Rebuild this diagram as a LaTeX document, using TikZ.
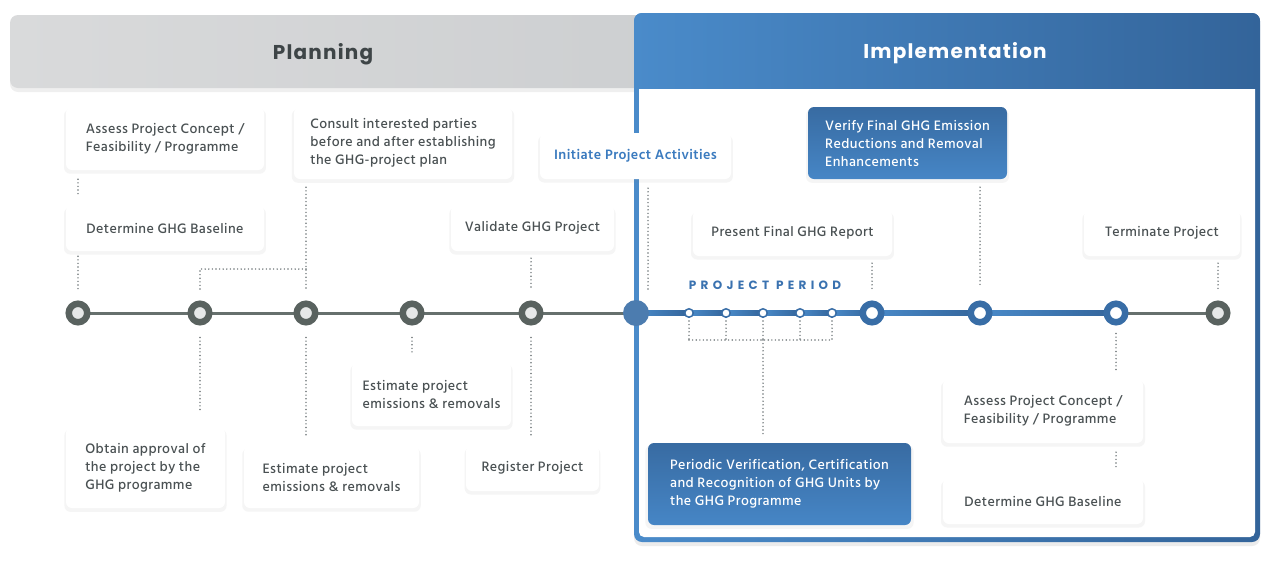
\documentclass[tikz,border=0pt]{standalone}
\usepackage{fontspec}
\setmainfont{Hind Siliguri}[UprightFont={* Medium}, BoldFont={* SemiBold}, LetterSpace=3]
\newfontfamily\headfont[LetterSpace=6]{Poppins}
\newfontfamily\ppfont[LetterSpace=36]{Poppins}
\usetikzlibrary{shadows,calc}
\pgfdeclarelayer{back}
\pgfdeclarelayer{lines}
\pgfsetlayers{back,lines,main}
\definecolor{bodytxt}{HTML}{4A5153}
\definecolor{headtxt}{HTML}{3E4547}
\definecolor{plL}{HTML}{D9DADB}
\definecolor{plR}{HTML}{CDCFD1}
\definecolor{imL}{HTML}{4A8BCA}
\definecolor{imR}{HTML}{33649A}
\definecolor{bbTop}{HTML}{386BA2}
\definecolor{bbBot}{HTML}{4686C6}
\definecolor{ringg}{HTML}{59625F}
\definecolor{ringin}{HTML}{E6E8E8}
\definecolor{lineg}{HTML}{66706D}
\definecolor{ringb}{HTML}{386DA6}
\definecolor{blL}{HTML}{4A8BCA}
\definecolor{blD}{HTML}{33649A}
\definecolor{dotc}{HTML}{6E7678}
\definecolor{bluetxt}{HTML}{3B7BBF}
\definecolor{pptxt}{HTML}{3A72B0}
\newcommand\bodyfnt{\fontsize{14}{18}\selectfont}
\tikzset{
  wbox/.style={fill=white, rounded corners=6pt, align=left, text=bodytxt, font=\bodyfnt,
    inner xsep=0pt, inner ysep=0pt,
    drop shadow={shadow xshift=0pt, shadow yshift=-3pt, opacity=0.08, shadow scale=1.02}},
  bbox/.style={wbox, top color=bbTop, bottom color=bbBot, text=white},
  gring/.style={circle, draw=ringg, line width=6.5pt, fill=ringin, minimum size=18.5pt, inner sep=0pt,
    drop shadow={shadow xshift=0pt, shadow yshift=-2pt, opacity=0.12}},
  bring/.style={gring, draw=ringb, fill=white},
  sdot/.style={circle, draw=ringb, line width=1.5pt, fill=white, minimum size=8.5pt, inner sep=0pt},
  bdot/.style={circle, fill=ringb!90!white, minimum size=26pt, inner sep=0pt},
  grayline/.style={draw=lineg, line width=3pt},
  dots/.style={draw=dotc, line width=1.6pt, line cap=round, dash pattern=on 0pt off 3.6pt},
  headlbl/.style={font=\headfont\bfseries\fontsize{20}{24}\selectfont},
}
\begin{document}
\begin{tikzpicture}[x=1pt,y=-1pt]
\useasboundingbox (0,0) rectangle (1280,563);
\begin{pgfonlayer}{back}
\fill[white] (0,0) rectangle (1280,563);
\path[rounded corners=8pt, left color=plL, right color=plR,
  drop shadow={shadow xshift=0pt, shadow yshift=-4pt, opacity=0.12}] (10,15) rectangle (660,88);
\path[rounded corners=8pt, left color=imL, right color=imR,
  drop shadow={shadow xshift=0pt, shadow yshift=-4pt, opacity=0.15}] (634,13) rectangle (1260,542);
\fill[white, rounded corners=5pt] (639,70) rectangle (1255,537);
\begin{scope}
\clip[rounded corners=8pt] (634,13) rectangle (1260,542);
\shade[left color=imL, right color=imR] (634,13) rectangle (1260,88);
\end{scope}
\end{pgfonlayer}

% headers
\node[headlbl, text=headtxt] (plan) at (323,54) {Planning};
\node[headlbl, text=white] (impl) at (955,53) {Implementation};

% boxes above
\node[wbox, minimum width=198pt, minimum height=63pt] (b1) at (165,138.5) {Assess Project Concept /\\Feasibility / Programme};
\node[wbox, minimum width=198pt, minimum height=46pt] (b2) at (165,228) {Determine GHG Baseline};
\node[wbox, minimum width=218pt, minimum height=72pt] (b3) at (403,143) {Consult interested parties\\before and after establishing\\the GHG-project plan};
\node[wbox, minimum width=191pt, minimum height=46pt, text=bluetxt, font=\bodyfnt\bfseries] (b4) at (635.5,156) {Initiate Project Activities};
\node[wbox, minimum width=163pt, minimum height=46pt] (b5) at (532.5,228) {Validate GHG Project};
\node[bbox, minimum width=199pt, minimum height=72pt] (b6) at (907.5,143) {Verify Final GHG Emission\\Reductions and Removal\\Enhancements};
\node[wbox, minimum width=199pt, minimum height=46pt] (b7) at (792.5,233) {Present Final GHG Report};
\node[wbox, minimum width=156pt, minimum height=46pt] (b8) at (1162,233) {Terminate Project};
% boxes below
\node[wbox, minimum width=159pt, minimum height=64pt] (b9) at (431.5,394) {Estimate project\\emissions \& removals};
\node[wbox, minimum width=159pt, minimum height=81pt] (b10) at (145.5,467.5) {Obtain approval of\\the project by the\\GHG programme};
\node[wbox, minimum width=175pt, minimum height=62pt] (b11) at (331.5,477) {Estimate project\\emissions \& removals};
\node[wbox, minimum width=133pt, minimum height=46pt] (b12) at (532.5,468) {Register Project};
\node[bbox, minimum width=263pt, minimum height=82pt] (b13) at (779.5,484) {Periodic Verification, Certification\\and Recognition of GHG Units by\\the GHG Programme};
\node[wbox, minimum width=200pt, minimum height=64pt] (b14) at (1043,411) {Assess Project Concept /\\Feasibility / Programme};
\node[wbox, minimum width=200pt, minimum height=46pt] (b15) at (1043,501) {Determine GHG Baseline};

% timeline markers
\node[gring] (c1) at (78,313) {};
\node[gring] (c2) at (200,313) {};
\node[gring] (c3) at (306,313) {};
\node[gring] (c4) at (412,313) {};
\node[gring] (c5) at (531,313) {};
\node[bdot] (bc) at (636,313) {};
\node[sdot] (s1) at (689,313) {};
\node[sdot] (s2) at (726,313) {};
\node[sdot] (s3) at (763,313) {};
\node[sdot] (s4) at (800,313) {};
\node[sdot] (s5) at (832,313) {};
\node[bring] (r1) at (872,313) {};
\node[bring] (r2) at (980,313) {};
\node[bring] (r3) at (1116,313) {};
\node[gring] (g6) at (1218,313) {};

\node[font=\ppfont\bfseries\fontsize{12}{14}\selectfont, text=pptxt] (pp) at (765,285) {PROJECT PERIOD};

\begin{pgfonlayer}{lines}
\draw[grayline] (c1.center) -- (bc.center);
\foreach \a/\b in {bc/s1,s1/s2,s2/s3,s3/s4,s4/s5,s5/r1,r1/r2,r2/r3}
  \shade[left color=blL, right color=blD] ($(\a.center)+(0,-2.3)$) rectangle ($(\b.center)+(0,2.3)$);
\draw[grayline] (r3.center) -- (g6.center);
\end{pgfonlayer}

% dotted connectors
\draw[dots, shorten <=9pt, shorten >=8pt] (b1.south -| c1) -- (b2.north -| c1);
\draw[dots, shorten <=5pt, shorten >=11pt] (b2.south -| c1) -- (c1);
\draw[dots, shorten <=8pt, shorten >=11pt] (b3.south -| c3) -- (c3);
\coordinate (j1) at (306,269);
\draw[dots, shorten >=11pt] (j1) -| (c2);
\draw[dots, shorten <=7pt, shorten >=11pt] (b5.south -| c5) -- (c5);
\coordinate (ie) at (648,290);
\draw[dots, shorten <=9pt] (b4.south -| ie) -- (ie);
\draw[dots, shorten <=7pt, shorten >=9pt] (b7.south -| r1) -- (r1);
\draw[dots, shorten <=8pt, shorten >=13pt] (b6.south -| r2) -- (r2);
\draw[dots, shorten <=7pt, shorten >=9pt] (b8.south -| g6) -- (g6);

\draw[dots, shorten <=12pt, shorten >=15pt] (c2) -- (b10.north -| c2);
\draw[dots, shorten <=12pt, shorten >=11pt] (c3) -- (b11.north -| c3);
\draw[dots, shorten <=12pt, shorten >=7pt] (c4) -- (b9.north -| c4);
\draw[dots, shorten <=12pt, shorten >=10pt] (c5) -- (b12.north -| c5);
\coordinate (h1) at (689,340);
\coordinate (h2) at (726,340);
\coordinate (h3) at (763,340);
\coordinate (h4) at (800,340);
\coordinate (h5) at (832,340);
\foreach \s/\h in {s1/h1,s2/h2,s3/h3,s4/h4,s5/h5}
  \draw[dots, shorten <=3pt] (\s) -- (\h);
\draw[dots] (h1) -- (h5);
\draw[dots, shorten >=8pt] (h3) -- (b13.north -| h3);
\draw[dots, shorten <=8pt, shorten >=9pt] (r3) -- (b14.north -| r3);
\draw[dots, shorten <=9pt, shorten >=8pt] (b14.south -| r3) -- (b15.north -| r3);
\end{tikzpicture}
\end{document}
